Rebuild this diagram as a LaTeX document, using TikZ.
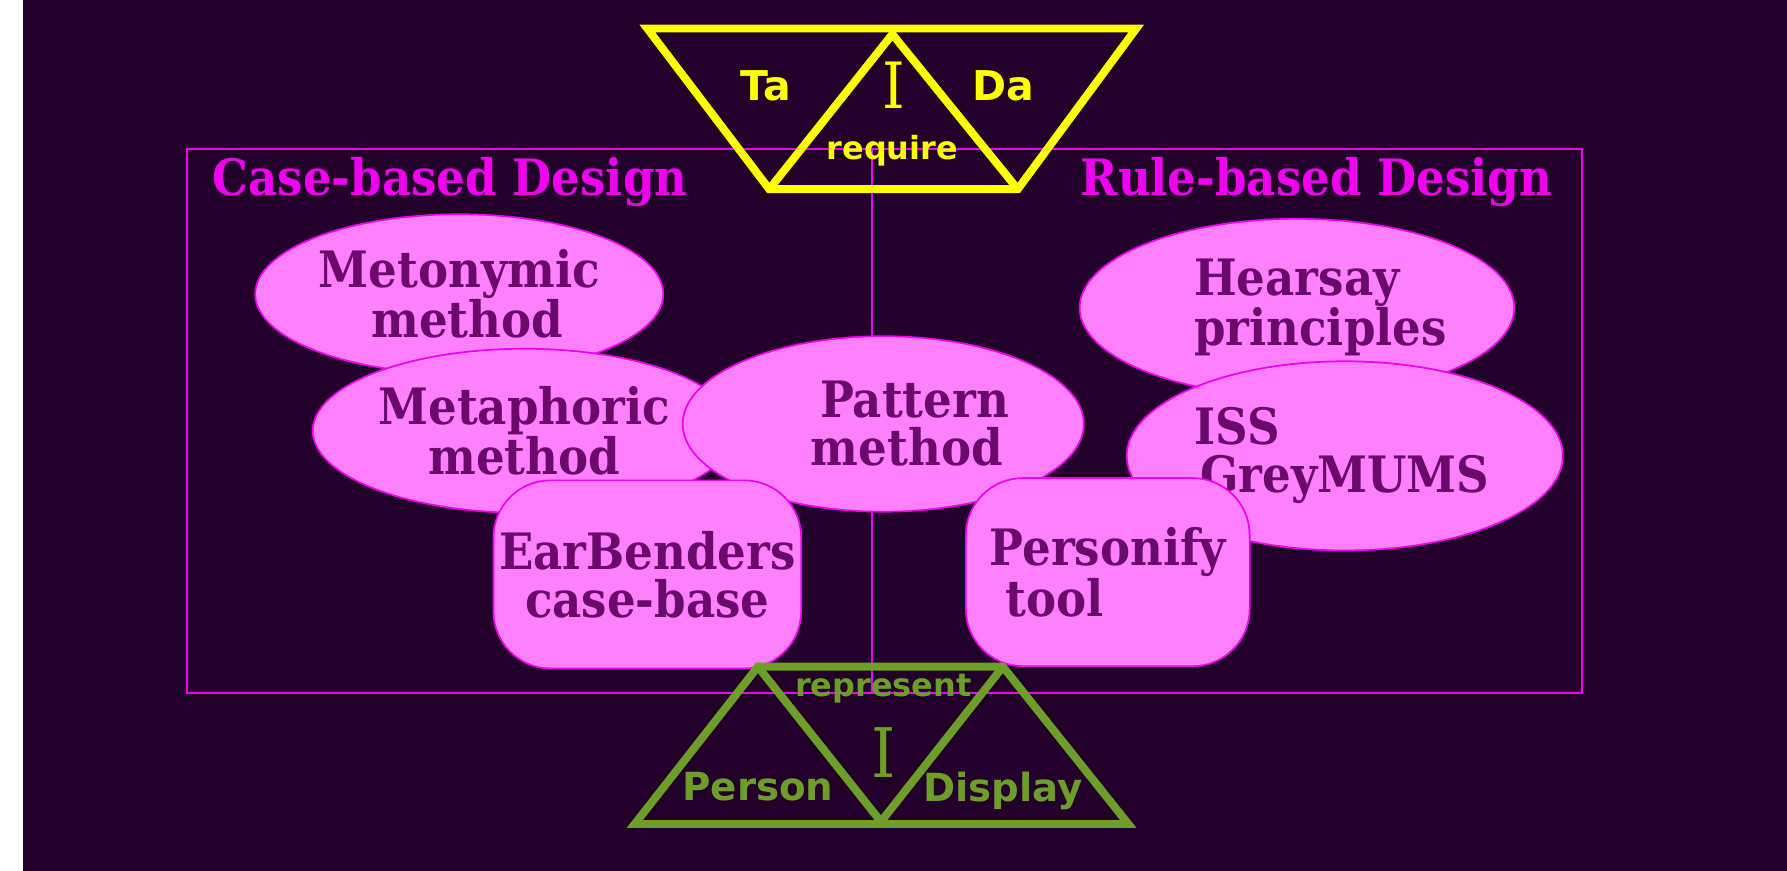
\documentclass[tikz,border=0pt]{standalone}
\usepackage{fontspec}
\setmainfont{DejaVu Serif Condensed}
\newfontfamily\lblsans{DejaVu Sans}
\begin{document}
\begin{tikzpicture}[x=1pt,y=-1pt,
  bubble/.style={fill=pinkfill,draw=magline,line width=1.5pt,text=darktext,font=\fontsize{44}{42}\selectfont\bfseries,align=center},
  ell/.style={bubble,ellipse},
  rbox/.style={bubble,rounded corners=50pt},
  yel/.style={draw=yelc,line width=7pt,line join=miter},
  grn/.style={draw=grnc,line width=7pt},
  ytxt/.style={text=yelc,font=\lblsans\fontsize{36}{36}\selectfont\bfseries},
  gtxt/.style={text=grnc,font=\lblsans\fontsize{34}{34}\selectfont\bfseries},
  title/.style={text=magline,font=\fontsize{44}{44}\selectfont\bfseries}]
\definecolor{bgc}{HTML}{23002A}
\definecolor{pinkfill}{HTML}{FF80FF}
\definecolor{magline}{HTML}{F000F0}
\definecolor{darktext}{HTML}{6A0A6A}
\definecolor{yelc}{HTML}{FFFF00}
\definecolor{grnc}{HTML}{6E9E2A}
\useasboundingbox (0,0) rectangle (1568,764);
\fill[white] (0,0) rectangle (20,764);
\fill[bgc] (20,0) rectangle (1568,764);
\usetikzlibrary{shapes.geometric}
% frame
\draw[magline,line width=2pt] (164,131) rectangle (1388,608);
\draw[magline,line width=2pt] (765,131) -- (765,608);
\node[title] (t1) at (395,160) {Case-based Design};
\node[title] (t2) at (1155,160) {Rule-based Design};
% left bubbles
\node[ell,minimum width=352pt,minimum height=140pt] (met) at (403,258) {Metonymic\\\ method};
\node[ell,minimum width=344pt,minimum height=144pt] (mph) at (460,378) {Metaphoric\\method};
\node[ell,minimum width=352pt,minimum height=154pt] (pat) at (775,372) {\ \ \ \ Pattern\\\ \ \ method};
\node[rbox,minimum width=270pt,minimum height=165pt] (ear) at (568,504) {EarBenders\\case-base};
% right
\node[ell,minimum width=374pt,minimum height=156pt] (hea) at (1138,270) {Hearsay\\\ \ \ principles};
\node[ell,minimum width=372pt,minimum height=166pt] (iss) at (1180,400) {ISS\hspace{4.3em}\null\\GreyMUMS};
\node[rbox,minimum width=249pt,minimum height=165pt,align=left] (per) at (972,502) {Personify\\\ tool};
% yellow
\coordinate (ya) at (568,25); \coordinate (yb) at (997,25);
\coordinate (yc) at (893,166); \coordinate (yd) at (675,166);
\coordinate (ytop) at (783,30);
\draw[yel] (ya) -- (yb) -- (yc) -- (yd) -- cycle;
\draw[yel] (yd) -- (ytop) -- (yc);
\node[ytxt] (ta) at (672,75) {Ta};
\node[ytxt] (da) at (880,75) {Da};
\node[text=yelc,font=\fontsize{56}{56}\selectfont] (yi) at (784,75) {I};
\node[text=yelc,font=\lblsans\fontsize{28}{28}\selectfont\bfseries] (req) at (783,132) {require};
% green
\coordinate (ga) at (665,585); \coordinate (gb) at (880,585);
\coordinate (gc) at (990,723); \coordinate (gd) at (557,723);
\coordinate (gbot) at (773,721);
\draw[grn] (ga) -- (gb) -- (gc) -- (gd) -- cycle;
\draw[grn] (ga) -- (gbot) -- (gb);
\node[text=grnc,font=\lblsans\fontsize{28}{28}\selectfont\bfseries] (rep) at (775,604) {represent};
\node[text=grnc,font=\fontsize{60}{60}\selectfont] (gi) at (775,660) {I};
\node[gtxt] (pe) at (665,690) {Person};
\node[gtxt] (di) at (880,694) {Display};
\end{tikzpicture}
\end{document}
